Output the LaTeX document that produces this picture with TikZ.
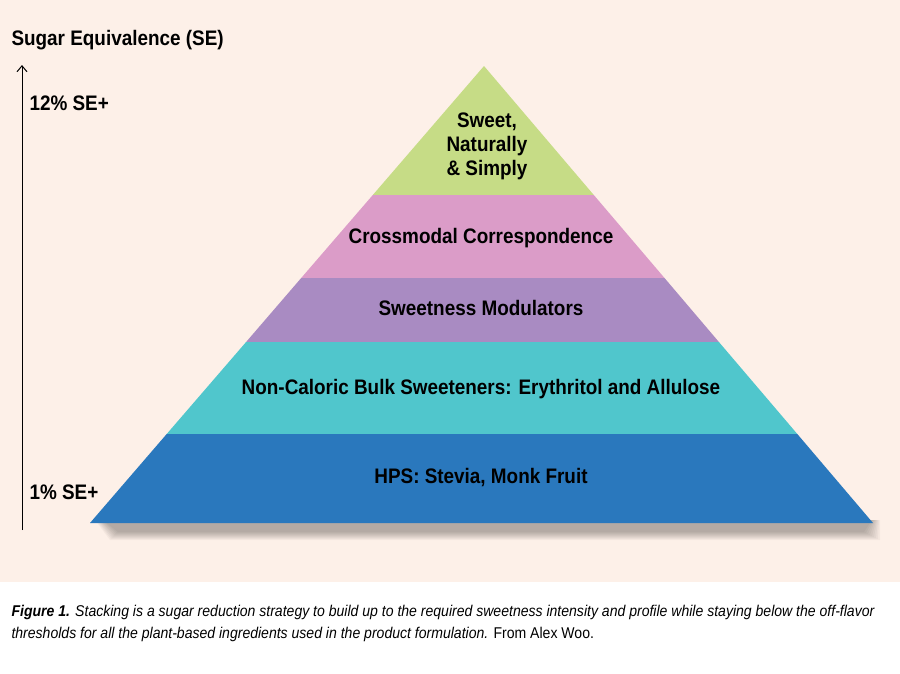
\documentclass[tikz,border=0pt]{standalone}
\usepackage{fontspec}
\setmainfont{Liberation Sans}[FakeStretch=0.9]
\newfontfamily\capfont{Liberation Sans}[FakeStretch=0.9]
\usetikzlibrary{calc,arrows.meta}
\definecolor{bgp}{HTML}{FDF0E8}
\definecolor{cgreen}{HTML}{C6DC86}
\definecolor{cpink}{HTML}{DB9CC8}
\definecolor{cpurple}{HTML}{A98BC2}
\definecolor{cteal}{HTML}{50C6CC}
\definecolor{cblue}{HTML}{2A78BD}
\begin{document}
\begin{tikzpicture}[x=1pt,y=-1pt,
  lbl/.style={font=\bfseries\fontsize{21}{24}\selectfont, text=black, align=center},
  side/.style={font=\bfseries\fontsize{21}{24}\selectfont, anchor=west}]
\useasboundingbox (0,0) rectangle (900,673);
\fill[white] (0,0) rectangle (900,673);
\fill[bgp] (0,0) rectangle (900,582);
% shadow
\foreach \i in {0,...,8}{
  \fill[black,opacity=0.035] (95+\i,520) -- (880-\i,520) -- (880-\i*2,540-\i) -- (110+\i,540-\i) -- cycle;}
\fill[cgreen] (484,66) -- (593.8,195) -- (372.8,195) -- cycle;
\fill[cpink] (372.8,195) -- (593.8,195) -- (664.5,278) -- (301.2,278) -- cycle;
\fill[cpurple] (301.2,278) -- (664.5,278) -- (718.9,342) -- (246.1,342) -- cycle;
\fill[cteal] (246.1,342) -- (718.9,342) -- (797.3,434) -- (166.7,434) -- cycle;
\fill[cblue] (166.7,434) -- (797.3,434) -- (873,523) -- (90,523) -- cycle;
\node[lbl] (t1) at (487,146) {Sweet,\\Naturally\\\& Simply};
\node[lbl] (t2) at (481,238) {Crossmodal Correspondence};
\node[lbl] (t3) at (481,308) {Sweetness Modulators};
\node[lbl] (t4) at (481,389) {Non-Caloric Bulk Sweeteners: Erythritol and Allulose};
\node[lbl] (t5) at (481,478) {HPS: Stevia, Monk Fruit};
\node[side] (title) at (8,40) {Sugar Equivalence (SE)};
\node[side] (top) at (26,103) {12\% SE+};
\node[side] (bot) at (26,492) {1\% SE+};
\coordinate (a0) at (22,530);
\coordinate (a1) at (22,65);
\draw[line width=1pt,-{Straight Barb[length=6pt,width=10pt]}] (a0) -- (a1);
\node[anchor=west,font=\capfont\fontsize{15.6}{22}\selectfont,align=left] (cap) at (8,623)
{\textbf{\textit{Figure 1.}} \textit{Stacking is a sugar reduction strategy to build up to the required sweetness intensity and profile while staying below the off-flavor}\\
\textit{thresholds for all the plant-based ingredients used in the product formulation.} From Alex Woo.};
\end{tikzpicture}
\end{document}
